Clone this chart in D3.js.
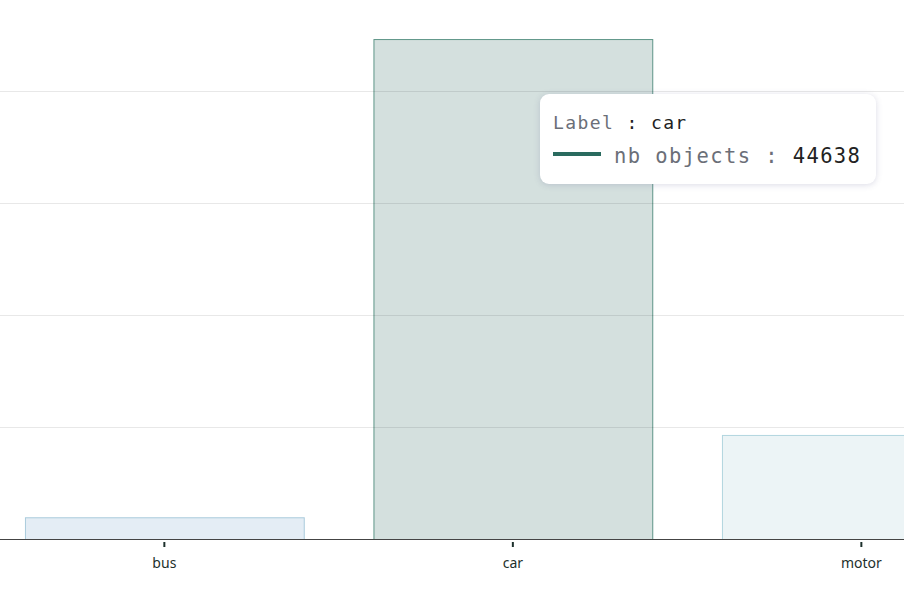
<!DOCTYPE html>
<html>
<head>
<meta charset="utf-8">
<script src="https://cdn.jsdelivr.net/npm/d3@7"></script>
<style>
  html, body { margin: 0; padding: 0; background: #fff; overflow: hidden; }
  #chart { position: relative; width: 904px; height: 592px; }
  svg { display: block; }
  .axis text { font-family: "Noto Sans", sans-serif; font-size: 14px; fill: #1d302c; }
  .tooltip {
    position: absolute; left: 540px; top: 94px; width: 336px; height: 90px;
    box-sizing: border-box; background: #fff; border-radius: 9px;
    box-shadow: 0 1px 6px rgba(90, 90, 140, 0.22);
    font-family: "DejaVu Sans Mono", monospace; letter-spacing: 1.4px;
  }
  .tooltip .row1 { position: absolute; left: 13px; top: 18px; font-size: 18px; color: #222; }
  .tooltip .row2 { position: absolute; left: 13px; top: 50px; font-size: 20.5px; color: #222; white-space: nowrap; }
  .tooltip .muted { color: #6b6f78; }
  .tooltip .swatch { display: inline-block; width: 48px; height: 4px; background: #2a6b5f; vertical-align: middle; margin-right: 13px; position: relative; top: -3px; }
</style>
</head>
<body>
<div id="chart"></div>
<script>
const categories = ["bus", "car", "motor"];
const values = [1940, 44638, 9290];
const fills = ["#e4edf5", "#d4e0de", "#ecf4f6"];
const strokes = ["#a9cbdc", "#5e9487", "#b2d6df"];
const yTicks = [10000, 20000, 30000, 40000];
const seriesName = "nb objects";
const hovered = 1;

const width = 904, height = 592;
const baseY = 539;

const svg = d3.select("#chart").append("svg").attr("width", width).attr("height", height);

const x = d3.scaleBand().domain(categories).range([-9.9, 1035.6]).paddingInner(0.2).paddingOuter(0.1);
const y = d3.scaleLinear().domain([0, 50000]).range([baseY, -21]);

const bars = svg.append("g");
bars.selectAll("rect")
  .data(categories)
  .enter()
  .append("rect")
  .attr("x", (d) => x(d) + 0.5)
  .attr("width", x.bandwidth())
  .attr("y", (d, i) => y(values[i]) + 0.5)
  .attr("height", (d, i) => baseY - y(values[i]))
  .attr("fill", (d, i) => fills[i])
  .attr("stroke", (d, i) => strokes[i])
  .attr("stroke-width", 1);

const grid = svg.append("g");
grid.selectAll("line")
  .data(yTicks)
  .enter()
  .append("line")
  .attr("x1", 0).attr("x2", width)
  .attr("y1", (d) => Math.round(y(d)) + 0.5)
  .attr("y2", (d) => Math.round(y(d)) + 0.5)
  .attr("stroke", "#000")
  .attr("stroke-opacity", 0.09);

const xAxis = svg.append("g").attr("class", "axis").attr("transform", `translate(0,${baseY})`)
  .call(d3.axisBottom(x).tickSize(8).tickPadding(11));
xAxis.select(".domain").attr("d", `M0,0.5H${width}`).attr("stroke", "#444");
xAxis.selectAll(".tick line").attr("stroke", "#1d302c").attr("stroke-width", 2).attr("y1", 3);

const tip = d3.select("#chart").append("div").attr("class", "tooltip");
const r1 = tip.append("div").attr("class", "row1");
r1.append("span").attr("class", "muted").text("Label");
r1.append("span").text(" : " + categories[hovered]);
const r2 = tip.append("div").attr("class", "row2");
r2.append("span").attr("class", "swatch");
r2.append("span").attr("class", "muted").text(seriesName + " :");
r2.append("span").text(" " + values[hovered]);
</script>
</body>
</html>
